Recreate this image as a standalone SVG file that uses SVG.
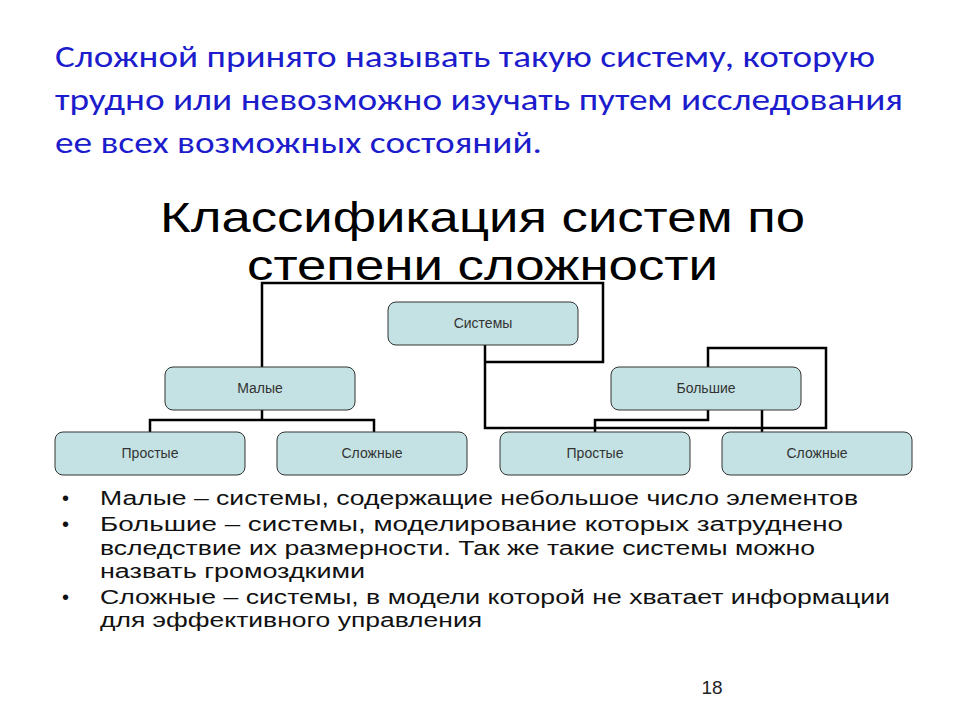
<svg xmlns="http://www.w3.org/2000/svg" width="960" height="720" viewBox="0 0 960 720">
<style>
.b{fill:#c4e2e3;stroke:#333;stroke-width:1}
.t{font-family:"Liberation Sans",Arial,sans-serif;font-size:14px;fill:#333;text-anchor:middle}
.c{fill:none;stroke:#000;stroke-width:2.5}
.bl{font-family:"Liberation Sans",Arial,sans-serif;font-size:20px;fill:#111}
</style>
<rect width="960" height="720" fill="#fff"/>
<g font-family="Calibri,'Open Sans','Liberation Sans',sans-serif" font-size="30" fill="#1c1ccc" lengthAdjust="spacingAndGlyphs">
<text x="55" y="67" textLength="820" lengthAdjust="spacingAndGlyphs">Сложной принято называть такую систему, которую</text>
<text x="55" y="110" textLength="848" lengthAdjust="spacingAndGlyphs">трудно или невозможно изучать путем исследования</text>
<text x="55" y="153" textLength="487" lengthAdjust="spacingAndGlyphs">ее всех возможных состояний.</text>
</g>
<g font-family="'Liberation Sans',Arial,sans-serif" font-size="42" fill="#000">
<text x="160" y="232" textLength="645" lengthAdjust="spacingAndGlyphs">Классификация систем по</text>
<text x="247" y="280" textLength="471" lengthAdjust="spacingAndGlyphs">степени сложности</text>
</g>
<g id="connectors">
<path class="c" d="M262,367V283H603V362H485"/>
<path class="c" d="M485,345V428H826V348H708V367"/>
<path class="c" d="M708,410V420H595V432M762,410V432"/>
<path class="c" d="M262,410V420H150V432M262,420H374V432"/>
</g>
<g id="n-sys"><rect class="b" x="388" y="302" width="190" height="43" rx="8"/><text class="t" x="483" y="328">Системы</text></g>
<g id="n-mal"><rect class="b" x="165" y="367" width="190" height="43" rx="8"/><text class="t" x="260" y="393">Малые</text></g>
<g id="n-big"><rect class="b" x="611" y="367" width="190" height="43" rx="8"/><text class="t" x="706" y="393">Большие</text></g>
<g id="n-p1"><rect class="b" x="55" y="432" width="190" height="43" rx="8"/><text class="t" x="150" y="458">Простые</text></g>
<g id="n-s1"><rect class="b" x="277" y="432" width="190" height="43" rx="8"/><text class="t" x="372" y="458">Сложные</text></g>
<g id="n-p2"><rect class="b" x="500" y="432" width="190" height="43" rx="8"/><text class="t" x="595" y="458">Простые</text></g>
<g id="n-s2"><rect class="b" x="722" y="432" width="190" height="43" rx="8"/><text class="t" x="817" y="458">Сложные</text></g>
<g class="bl">
<text x="62" y="505">•</text><text x="100" y="505" textLength="758" lengthAdjust="spacingAndGlyphs">Малые – системы, содержащие небольшое число элементов</text>
<text x="62" y="531">•</text><text x="100" y="531" textLength="743" lengthAdjust="spacingAndGlyphs">Большие – системы, моделирование которых затруднено</text>
<text x="100" y="555" textLength="715" lengthAdjust="spacingAndGlyphs">вследствие их размерности. Так же такие системы можно</text>
<text x="100" y="578" textLength="265" lengthAdjust="spacingAndGlyphs">назвать громоздкими</text>
<text x="62" y="604">•</text><text x="100" y="604" textLength="790" lengthAdjust="spacingAndGlyphs">Сложные – системы, в модели которой не хватает информации</text>
<text x="100" y="627" textLength="382" lengthAdjust="spacingAndGlyphs">для эффективного управления</text>
</g>
<text x="712" y="694" font-family="'Liberation Sans',Arial,sans-serif" font-size="19" fill="#222" text-anchor="middle">18</text>
</svg>
